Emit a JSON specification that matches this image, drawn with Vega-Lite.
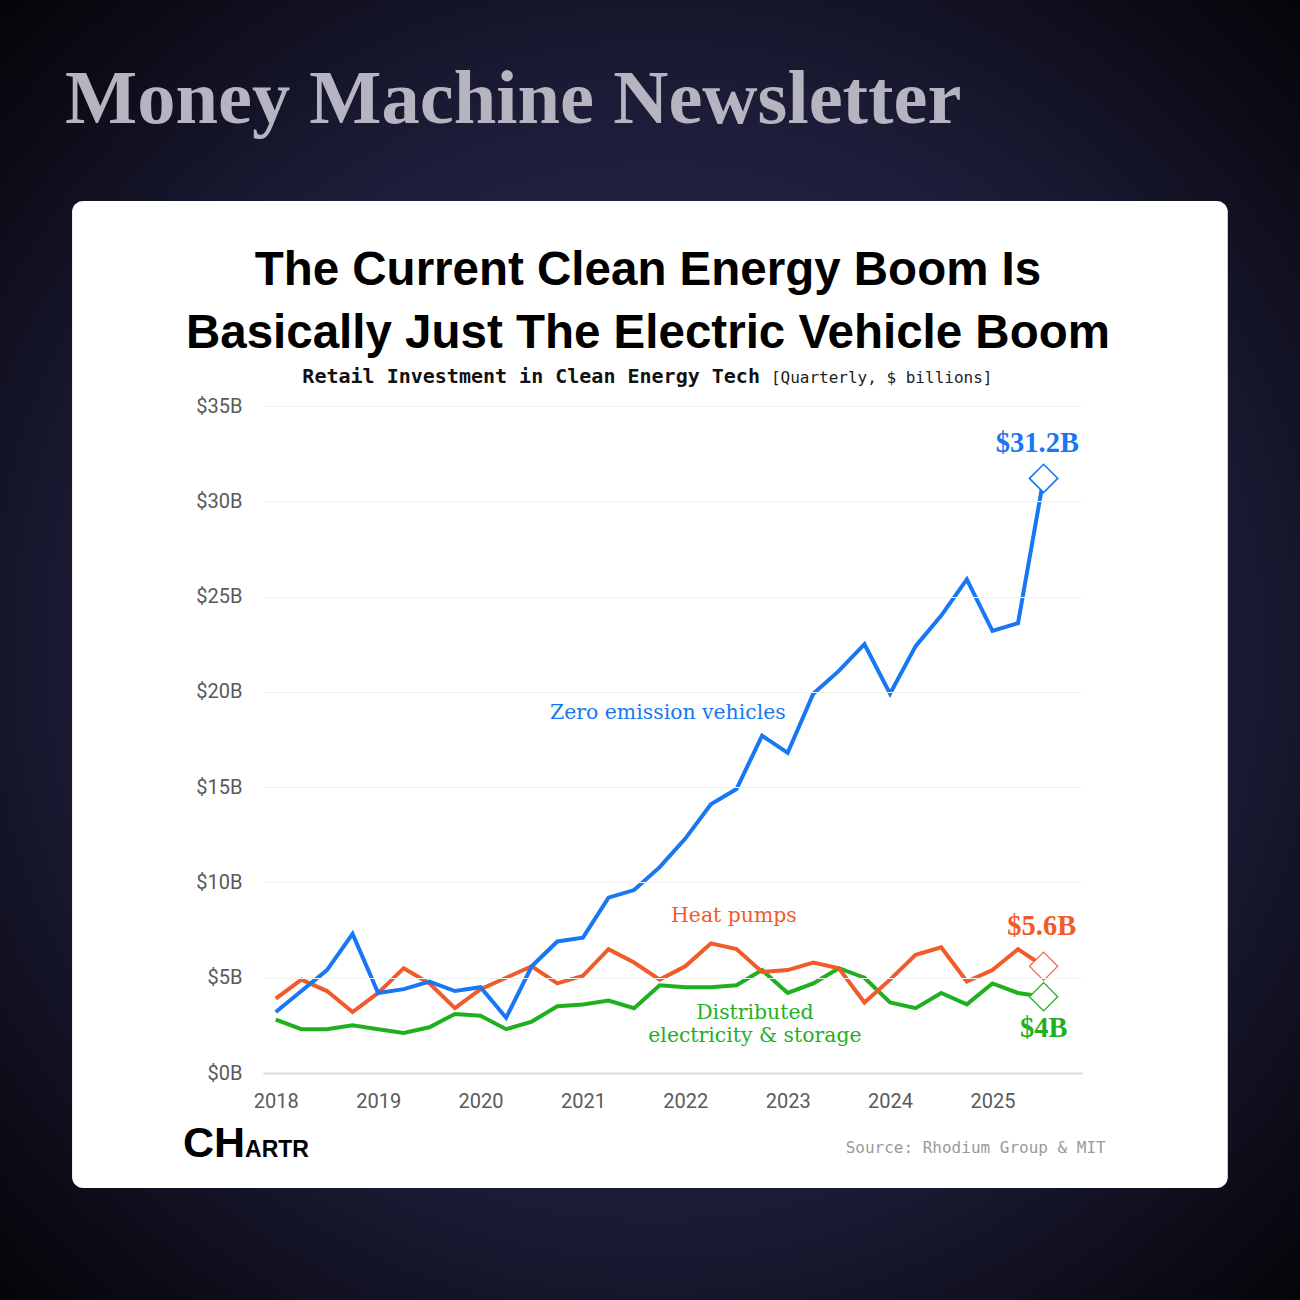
{
  "$schema": "https://vega.github.io/schema/vega-lite/v6.json",
  "width": 819,
  "height": 667,
  "autosize": {"type": "none"},
  "padding": {"left": 263, "top": 406, "right": 218, "bottom": 227},
  "background": "#0b0b14",
  "config": {"view": {"stroke": null}},
  "datasets": {
    "invest": [
      {"year": 2018.00, "zev": 3.2, "hp": 3.9, "des": 2.8},
      {"year": 2018.25, "zev": 4.3, "hp": 4.9, "des": 2.3},
      {"year": 2018.50, "zev": 5.4, "hp": 4.3, "des": 2.3},
      {"year": 2018.75, "zev": 7.3, "hp": 3.2, "des": 2.5},
      {"year": 2019.00, "zev": 4.2, "hp": 4.2, "des": 2.3},
      {"year": 2019.25, "zev": 4.4, "hp": 5.5, "des": 2.1},
      {"year": 2019.50, "zev": 4.8, "hp": 4.7, "des": 2.4},
      {"year": 2019.75, "zev": 4.3, "hp": 3.4, "des": 3.1},
      {"year": 2020.00, "zev": 4.5, "hp": 4.4, "des": 3.0},
      {"year": 2020.25, "zev": 2.9, "hp": 5.0, "des": 2.3},
      {"year": 2020.50, "zev": 5.6, "hp": 5.6, "des": 2.7},
      {"year": 2020.75, "zev": 6.9, "hp": 4.7, "des": 3.5},
      {"year": 2021.00, "zev": 7.1, "hp": 5.1, "des": 3.6},
      {"year": 2021.25, "zev": 9.2, "hp": 6.5, "des": 3.8},
      {"year": 2021.50, "zev": 9.6, "hp": 5.8, "des": 3.4},
      {"year": 2021.75, "zev": 10.8, "hp": 4.9, "des": 4.6},
      {"year": 2022.00, "zev": 12.3, "hp": 5.6, "des": 4.5},
      {"year": 2022.25, "zev": 14.1, "hp": 6.8, "des": 4.5},
      {"year": 2022.50, "zev": 14.9, "hp": 6.5, "des": 4.6},
      {"year": 2022.75, "zev": 17.7, "hp": 5.3, "des": 5.4},
      {"year": 2023.00, "zev": 16.8, "hp": 5.4, "des": 4.2},
      {"year": 2023.25, "zev": 19.9, "hp": 5.8, "des": 4.7},
      {"year": 2023.50, "zev": 21.1, "hp": 5.5, "des": 5.5},
      {"year": 2023.75, "zev": 22.5, "hp": 3.7, "des": 5.0},
      {"year": 2024.00, "zev": 19.9, "hp": 4.9, "des": 3.7},
      {"year": 2024.25, "zev": 22.4, "hp": 6.2, "des": 3.4},
      {"year": 2024.50, "zev": 24.0, "hp": 6.6, "des": 4.2},
      {"year": 2024.75, "zev": 25.9, "hp": 4.8, "des": 3.6},
      {"year": 2025.00, "zev": 23.2, "hp": 5.4, "des": 4.7},
      {"year": 2025.25, "zev": 23.6, "hp": 6.5, "des": 4.2},
      {"year": 2025.50, "zev": 31.2, "hp": 5.6, "des": 4.0}
    ]
  },
  "data": {"name": "invest"},
  "layer": [
    {
      "data": {"values": [{}]},
      "mark": {"type": "rect", "clip": false, "fill": {"gradient": "radial", "x1": 0.5, "y1": 0.5, "r1": 0, "x2": 0.5, "y2": 0.5, "r2": 0.72, "stops": [{"offset": 0, "color": "#2a2a52"}, {"offset": 0.55, "color": "#1e1e3c"}, {"offset": 1, "color": "#030305"}]}},
      "encoding": {
        "x": {"datum": 2015.307, "type": "quantitative", "scale": {"domain": [2017.875, 2025.875], "nice": false, "zero": false}, "axis": {"values": [2018, 2019, 2020, 2021, 2022, 2023, 2024, 2025], "format": "d", "title": null, "grid": false, "ticks": false, "domain": true, "domainColor": "#dcdcdc", "domainWidth": 2, "labelFont": "Roboto", "labelFontSize": 20, "labelColor": "#5a5a5a", "labelPadding": 18, "zindex": 1}},
        "x2": {"datum": 2028.1},
        "y": {"datum": 56.4, "type": "quantitative", "scale": {"domain": [0, 35], "nice": false, "zero": true}, "axis": {"values": [0, 5, 10, 15, 20, 25, 30, 35], "labelExpr": "'$' + datum.value + 'B'", "title": null, "grid": true, "gridColor": "#f1f1f1", "gridWidth": 1, "ticks": false, "domain": false, "labelFont": "Roboto", "labelFontSize": 20, "labelColor": "#5a5a5a", "labelPadding": 21, "zindex": 1}},
        "y2": {"datum": -12.0}
      }
    },
    {
      "data": {"values": [{}]},
      "mark": {"type": "rect", "clip": false, "fill": "#ffffff", "cornerRadius": 11},
      "encoding": {
        "x": {"datum": 2016.010},
        "x2": {"datum": 2027.299},
        "y": {"datum": 45.76},
        "y2": {"datum": -6.035}
      }
    },
    {
      "mark": {"type": "line", "color": "#1fb01f", "strokeWidth": 4, "clip": false},
      "encoding": {"x": {"field": "year", "type": "quantitative"}, "y": {"field": "des", "type": "quantitative"}}
    },
    {
      "mark": {"type": "line", "color": "#f15a29", "strokeWidth": 4, "clip": false},
      "encoding": {"x": {"field": "year", "type": "quantitative"}, "y": {"field": "hp", "type": "quantitative"}}
    },
    {
      "mark": {"type": "line", "color": "#1877f2", "strokeWidth": 4, "clip": false},
      "encoding": {"x": {"field": "year", "type": "quantitative"}, "y": {"field": "zev", "type": "quantitative"}}
    },
    {
      "transform": [{"filter": "datum.year == 2025.5"}],
      "mark": {"type": "point", "shape": "diamond", "size": 800, "filled": true, "fill": "#ffffff", "stroke": "#1fb01f", "strokeWidth": 1.3, "opacity": 1},
      "encoding": {"x": {"field": "year", "type": "quantitative"}, "y": {"field": "des", "type": "quantitative"}}
    },
    {
      "transform": [{"filter": "datum.year == 2025.5"}],
      "mark": {"type": "point", "shape": "diamond", "size": 800, "filled": true, "fill": "#ffffff", "stroke": "#f26a45", "strokeWidth": 1.2, "opacity": 1},
      "encoding": {"x": {"field": "year", "type": "quantitative"}, "y": {"field": "hp", "type": "quantitative"}}
    },
    {
      "transform": [{"filter": "datum.year == 2025.5"}],
      "mark": {"type": "point", "shape": "diamond", "size": 800, "filled": true, "fill": "#ffffff", "stroke": "#1877f2", "strokeWidth": 1.6, "opacity": 1},
      "encoding": {"x": {"field": "year", "type": "quantitative"}, "y": {"field": "zev", "type": "quantitative"}}
    },
    {
      "data": {"values": [{}]},
      "mark": {"type": "text", "text": "Money Machine Newsletter", "font": "Liberation Serif", "fontWeight": "bold", "fontSize": 76.5, "color": "#b5b4c0", "align": "left", "baseline": "alphabetic"},
      "encoding": {"x": {"datum": 2015.941}, "y": {"datum": 49.85}}
    },
    {
      "data": {"values": [{}]},
      "mark": {"type": "text", "text": ["The Current Clean Energy Boom Is", "Basically Just The Electric Vehicle  Boom"], "font": "Liberation Sans", "fontWeight": "bold", "fontSize": 47.5, "lineHeight": 63, "color": "#000000", "align": "center", "baseline": "alphabetic"},
      "encoding": {"x": {"datum": 2021.635}, "y": {"datum": 41.35}}
    },
    {
      "data": {"values": [{}]},
      "mark": {"type": "text", "text": "Retail Investment in Clean Energy Tech", "font": "DejaVu Sans Mono", "fontWeight": "bold", "fontSize": 20, "color": "#111111", "align": "right", "baseline": "alphabetic"},
      "encoding": {"x": {"datum": 2022.729}, "y": {"datum": 36.21}}
    },
    {
      "data": {"values": [{}]},
      "mark": {"type": "text", "text": "[Quarterly, $ billions]", "font": "DejaVu Sans Mono", "fontSize": 16, "color": "#222222", "align": "left", "baseline": "alphabetic"},
      "encoding": {"x": {"datum": 2022.836}, "y": {"datum": 36.21}}
    },
    {
      "data": {"values": [{}]},
      "mark": {"type": "text", "text": "Zero emission vehicles", "font": "DejaVu Serif", "fontSize": 20.4, "color": "#1877f2", "align": "center", "baseline": "alphabetic"},
      "encoding": {"x": {"datum": 2021.830}, "y": {"datum": 18.58}}
    },
    {
      "data": {"values": [{}]},
      "mark": {"type": "text", "text": "Heat pumps", "font": "DejaVu Serif", "fontSize": 20.4, "color": "#f15a29", "align": "center", "baseline": "alphabetic"},
      "encoding": {"x": {"datum": 2022.475}, "y": {"datum": 7.92}}
    },
    {
      "data": {"values": [{}]},
      "mark": {"type": "text", "text": ["Distributed", "electricity & storage"], "font": "DejaVu Serif", "fontSize": 20.4, "lineHeight": 22.5, "color": "#1fb01f", "align": "center", "baseline": "alphabetic"},
      "encoding": {"x": {"datum": 2022.680}, "y": {"datum": 2.83}}
    },
    {
      "data": {"values": [{}]},
      "mark": {"type": "text", "text": "$31.2B", "font": "Liberation Serif", "fontWeight": "bold", "fontSize": 28.5, "color": "#1877f2", "align": "center", "baseline": "alphabetic"},
      "encoding": {"x": {"datum": 2025.439}, "y": {"datum": 32.60}}
    },
    {
      "data": {"values": [{}]},
      "mark": {"type": "text", "text": "$5.6B", "font": "Liberation Serif", "fontWeight": "bold", "fontSize": 28.5, "color": "#f15a29", "align": "center", "baseline": "alphabetic"},
      "encoding": {"x": {"datum": 2025.482}, "y": {"datum": 7.24}}
    },
    {
      "data": {"values": [{}]},
      "mark": {"type": "text", "text": "$4B", "font": "Liberation Serif", "fontWeight": "bold", "fontSize": 28.5, "color": "#1fb01f", "align": "center", "baseline": "alphabetic"},
      "encoding": {"x": {"datum": 2025.502}, "y": {"datum": 1.905}}
    },
    {
      "data": {"values": [{}]},
      "mark": {"type": "text", "text": "CH", "font": "Liberation Sans", "fontWeight": "bold", "fontSize": 43, "color": "#000000", "align": "left", "baseline": "alphabetic"},
      "encoding": {"x": {"datum": 2017.094}, "y": {"datum": -4.408}}
    },
    {
      "data": {"values": [{}]},
      "mark": {"type": "text", "text": "ARTR", "font": "Liberation Sans", "fontWeight": "bold", "fontSize": 23, "color": "#000000", "align": "left", "baseline": "alphabetic"},
      "encoding": {"x": {"datum": 2017.700}, "y": {"datum": -4.408}}
    },
    {
      "data": {"values": [{}]},
      "mark": {"type": "text", "text": "Source: Rhodium Group & MIT", "font": "DejaVu Sans Mono", "fontSize": 16, "color": "#9a9a9a", "align": "right", "baseline": "alphabetic"},
      "encoding": {"x": {"datum": 2026.107}, "y": {"datum": -4.198}}
    }
  ]
}
